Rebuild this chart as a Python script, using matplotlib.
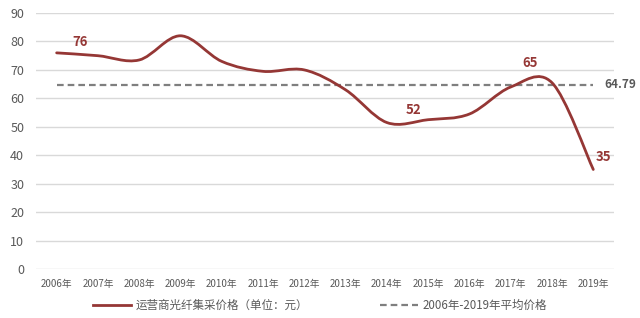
import matplotlib.pyplot as plt
from matplotlib.path import Path
from matplotlib.patches import PathPatch
from matplotlib.lines import Line2D

plt.rcParams['font.family'] = ['Noto Sans CJK SC', 'DejaVu Sans']

years = ['2006年', '2007年', '2008年', '2009年', '2010年', '2011年', '2012年',
         '2013年', '2014年', '2015年', '2016年', '2017年', '2018年', '2019年']
price = [76, 75, 73.5, 82, 73, 69.5, 70, 63, 51.5, 52.5, 54.5, 64, 65.5, 35]
avg_price = 64.79
# 标注：(序号, 文字, 像素偏移)
labels = [(0, '76', (23, 11)), (8, '52', (27, 13)), (12, '65', (-22, 20)), (13, '35', (10, 12))]

red = '#953735'
gray_txt = '#595959'

fig = plt.figure(figsize=(6.4, 3.18), dpi=100)
ax = fig.add_axes([0.05625, 0.154, 0.903, 0.805])

# Excel 风格平滑曲线 (Catmull-Rom -> 贝塞尔)
x = list(range(len(price)))
pts = list(zip(x, price))
verts = [pts[0]]
codes = [Path.MOVETO]
for i in range(len(pts) - 1):
    p0 = pts[i - 1] if i > 0 else pts[i]
    p1 = pts[i]
    p2 = pts[i + 1]
    p3 = pts[i + 2] if i + 2 < len(pts) else pts[i + 1]
    c1 = (p1[0] + (p2[0] - p0[0]) / 6, p1[1] + (p2[1] - p0[1]) / 6)
    c2 = (p2[0] - (p3[0] - p1[0]) / 6, p2[1] - (p3[1] - p1[1]) / 6)
    verts += [c1, c2, p2]
    codes += [Path.CURVE4] * 3
ax.add_patch(PathPatch(Path(verts, codes), fill=False, edgecolor=red, lw=2.0,
                       capstyle='round', joinstyle='round', zorder=3))

ax.plot([x[0], x[-1]], [avg_price, avg_price], color='#7f7f7f', lw=1.6,
        dashes=(3, 1.8), zorder=2)
ax.annotate(f'{avg_price:.2f}', (x[-1], avg_price), xytext=(11, 0),
            textcoords='offset pixels', ha='left', va='center',
            fontsize=8.5, fontweight='bold', color=gray_txt)

for i, t, off in labels:
    ax.annotate(t, (x[i], price[i]), xytext=off, textcoords='offset pixels',
                ha='center', va='center', fontsize=9.5, fontweight='bold', color=red)

ax.set_xlim(-0.5, len(years) - 0.5)
ax.set_ylim(0, 90)
ax.set_yticks(range(0, 91, 10))
ax.set_xticks(x)
ax.set_xticklabels(years)
ax.grid(axis='y', color='#d9d9d9', lw=1)
ax.set_axisbelow(True)
for s in ax.spines.values():
    s.set_visible(False)
ax.tick_params(axis='both', length=0, colors=gray_txt)
ax.tick_params(axis='y', labelsize=9, pad=8.5)
ax.tick_params(axis='x', labelsize=7, pad=7)

handles = [Line2D([], [], color=red, lw=2.0),
           Line2D([], [], color='#7f7f7f', lw=1.6, dashes=(3, 1.8))]
fig.legend(handles, ['运营商光纤集采价格（单位：元）', '2006年-2019年平均价格'],
           loc='center', bbox_to_anchor=(0.5, 0.04), ncol=2, frameon=False,
           fontsize=8.3, labelcolor=gray_txt, handlelength=3.3, handletextpad=0.35,
           columnspacing=6.3)

fig.savefig('out.png', dpi=100)
